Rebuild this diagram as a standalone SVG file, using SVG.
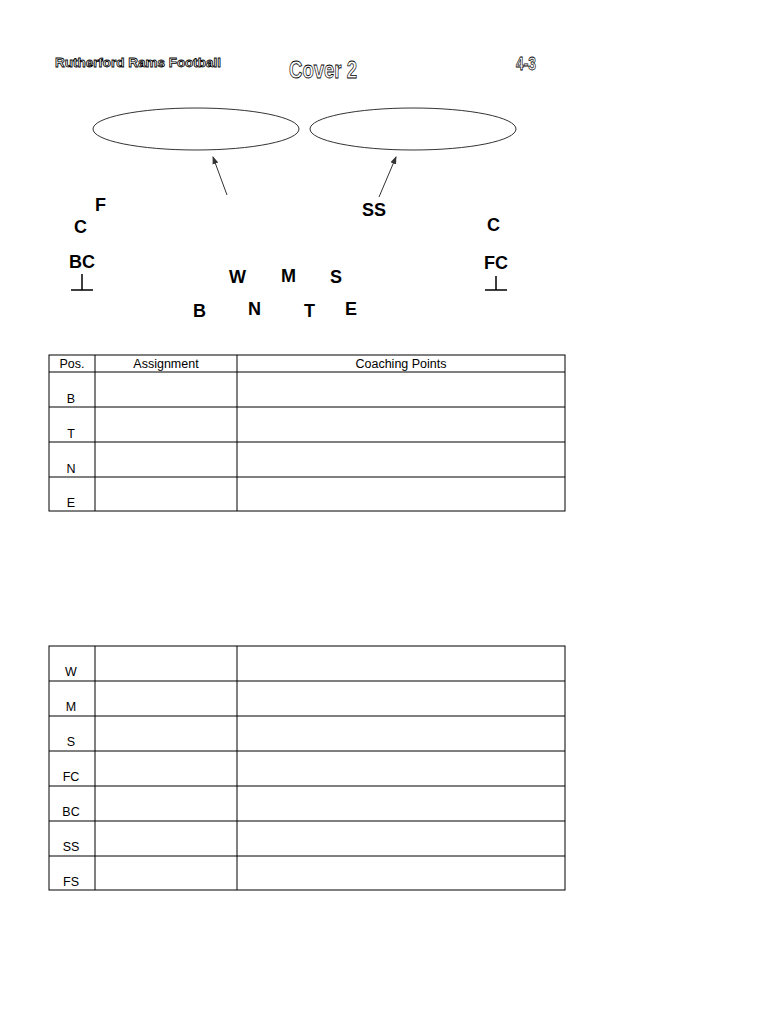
<svg xmlns="http://www.w3.org/2000/svg" width="768" height="1024" viewBox="0 0 768 1024">
<style>
.o{font-family:"Liberation Sans",Arial,sans-serif;font-weight:bold;fill:#fff;stroke:#000;stroke-width:0.8}
.p{font-family:"Liberation Sans",Arial,sans-serif;font-weight:bold;font-size:18px;fill:#000}
.t{font-family:"Liberation Sans",Arial,sans-serif;font-size:12.5px;fill:#000}
.g{fill:none;stroke:#000;stroke-width:1}
.e{fill:none;stroke:#333;stroke-width:1}
</style>
<defs><marker id="a" markerWidth="8" markerHeight="8" refX="7" refY="4" orient="auto" markerUnits="userSpaceOnUse"><path d="M0,1 L8,4 L0,7 Z" fill="#333"/></marker></defs>
<rect width="768" height="1024" fill="#fff"/>
<text class="o" x="55" y="67" font-size="13" textLength="166" lengthAdjust="spacingAndGlyphs">Rutherford Rams Football</text>
<text class="o" x="289" y="78" font-size="24" textLength="68" lengthAdjust="spacingAndGlyphs">Cover 2</text>
<text class="o" x="516" y="70" font-size="19" textLength="20" lengthAdjust="spacingAndGlyphs">4-3</text>
<g id="zone1"><ellipse class="e" cx="196" cy="129" rx="103" ry="21"/></g>
<g id="zone2"><ellipse class="e" cx="413" cy="129" rx="103" ry="21"/></g>
<g id="connectors">
<line x1="227" y1="195" x2="213" y2="157" stroke="#333" marker-end="url(#a)"/>
<line x1="379" y1="197" x2="396" y2="157" stroke="#333" marker-end="url(#a)"/>
</g>
<g id="players">
<text class="p" x="95" y="211">F</text>
<text class="p" x="74" y="233">C</text>
<text class="p" x="362" y="216">SS</text>
<text class="p" x="487" y="231">C</text>
<text class="p" x="69" y="268">BC</text>
<text class="p" x="484" y="269">FC</text>
<path d="M82,274 V290 M71,290 H93 M496,276 V290 M485,290 H507" stroke="#000" stroke-width="1.5" fill="none"/>
<text class="p" x="229" y="283">W</text>
<text class="p" x="281" y="282">M</text>
<text class="p" x="330" y="283">S</text>
<text class="p" x="193" y="317">B</text>
<text class="p" x="248" y="315">N</text>
<text class="p" x="304" y="317">T</text>
<text class="p" x="345" y="315">E</text>
</g>
<g id="table1">
<rect class="g" x="49" y="355" width="516" height="156"/>
<path class="g" d="M95,355V511M237,355V511M49,372H565M49,407H565M49,442H565M49,477H565"/>
<text class="t" x="72" y="368" text-anchor="middle">Pos.</text>
<text class="t" x="166" y="368" text-anchor="middle">Assignment</text>
<text class="t" x="401" y="368" text-anchor="middle">Coaching Points</text>
<text class="t" x="71" y="403" text-anchor="middle">B</text>
<text class="t" x="71" y="438" text-anchor="middle">T</text>
<text class="t" x="71" y="473" text-anchor="middle">N</text>
<text class="t" x="71" y="507" text-anchor="middle">E</text>
</g>
<g id="table2">
<rect class="g" x="49" y="646" width="516" height="244"/>
<path class="g" d="M95,646V890M237,646V890M49,681H565M49,716H565M49,751H565M49,786H565M49,821H565M49,856H565"/>
<text class="t" x="71" y="676" text-anchor="middle">W</text>
<text class="t" x="71" y="711" text-anchor="middle">M</text>
<text class="t" x="71" y="746" text-anchor="middle">S</text>
<text class="t" x="71" y="781" text-anchor="middle">FC</text>
<text class="t" x="71" y="816" text-anchor="middle">BC</text>
<text class="t" x="71" y="851" text-anchor="middle">SS</text>
<text class="t" x="71" y="886" text-anchor="middle">FS</text>
</g>
</svg>
